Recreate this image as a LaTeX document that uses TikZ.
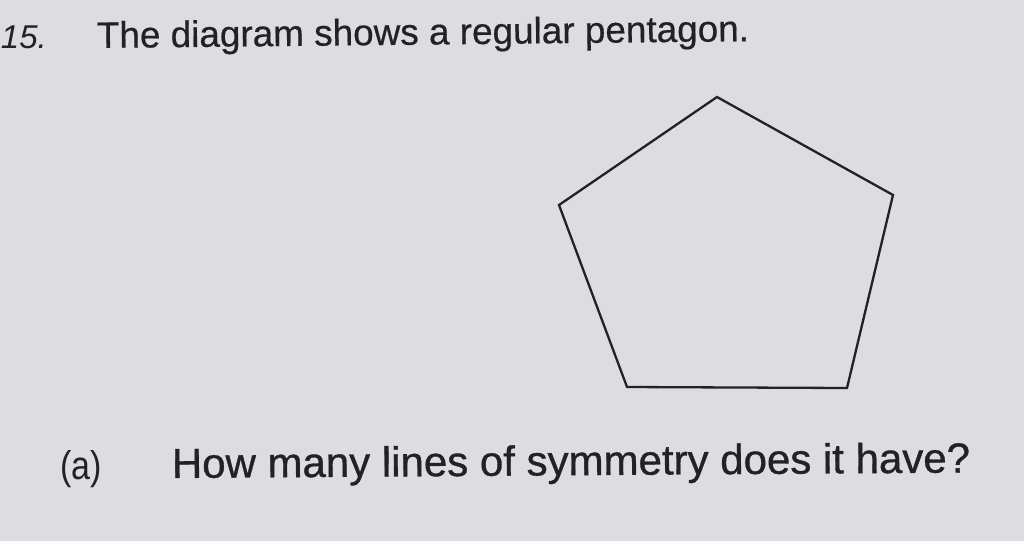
\documentclass[tikz,border=0pt]{standalone}
\usepackage{fontspec}
\setmainfont{Liberation Sans}
\definecolor{paper}{RGB}{221,221,225}
\definecolor{ink}{RGB}{34,34,36}
\begin{document}
\begin{tikzpicture}[x=1pt,y=-1pt,
  txt/.style={text=ink, inner sep=0pt, outer sep=0pt},
  edge/.style={draw=ink, line width=2.3pt, line join=miter}]
\useasboundingbox (0,0) rectangle (1024,541);
\fill[paper] (0,0) rectangle (1024,541);
\node[txt, anchor=base west, font=\fontsize{33}{40}\selectfont\itshape] (num) at (1,48) {15.};
\node[txt, anchor=base west, font=\fontsize{36.9}{42}\selectfont\addfontfeature{FakeBold=0.5}, rotate=0.6] (title) at (97,48) {The diagram shows a regular pentagon.};
\coordinate (T) at (717,97);
\coordinate (R) at (893,195);
\coordinate (BR) at (847,388);
\coordinate (BL) at (627,387);
\coordinate (L) at (559,205);
\draw[edge] (T) -- (R) -- (BR) -- (BL) -- (L) -- cycle;
\node[txt, anchor=base west, font=\fontsize{40}{46}\selectfont, xscale=0.85] (part) at (60,479) {(a)};
\node[txt, anchor=base west, font=\fontsize{42}{50}\selectfont\addfontfeature{FakeBold=0.8}, rotate=0.4] (q) at (172,478) {How many lines of symmetry does it have?};
\end{tikzpicture}
\end{document}
